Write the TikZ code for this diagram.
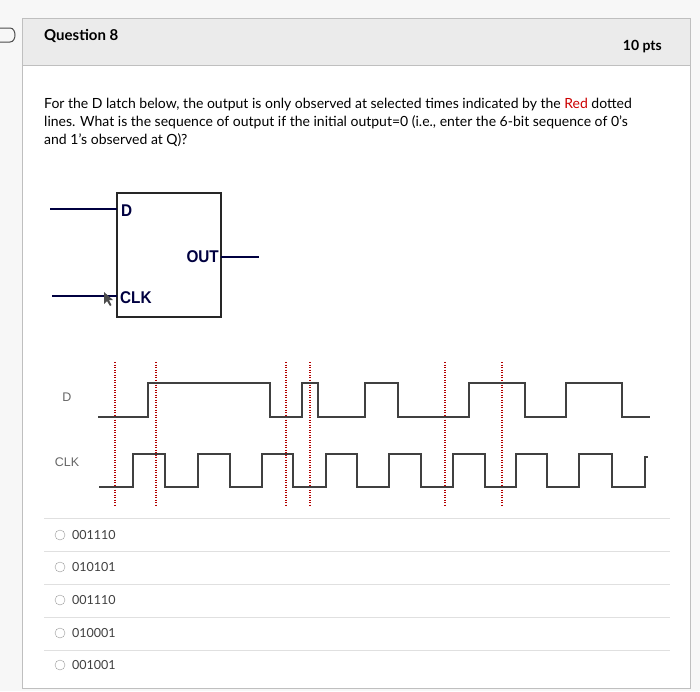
\documentclass[tikz,border=0pt]{standalone}
\usepackage{fontspec}
\setmainfont{Lato}
\setsansfont{Liberation Sans}
\begin{document}
\begin{tikzpicture}[x=1pt,y=-1pt,
  wave/.style={draw=black!75,line width=1.6pt},
  reddot/.style={draw=red!70!black,line width=1.2pt,dash pattern=on 1pt off 1.5pt},
  navy/.style={draw=blue!25!black,line width=2.5pt},
  lbl/.style={font=\sffamily\bfseries\fontsize{17}{17}\selectfont,text=blue!25!black,inner sep=0pt,xscale=0.9},
  opt/.style={font=\fontsize{12.5}{13}\selectfont,text=black!75,anchor=west,inner sep=0pt},
  radio/.style={circle,draw=black!40,minimum size=10pt,inner sep=0pt}]
\useasboundingbox (0,0) rectangle (700,691);
\fill[black!3] (0,0) rectangle (700,691);
\fill[white] (22,18) rectangle (690,688);
\fill[black!8] (22,18) rectangle (690,65);
\draw[black!25] (22,18) rectangle (690,688);
\draw[black!25] (22,65) -- (690,65);
\draw[black!70,line width=1pt] (0,28) -- (10,28) to[out=0,in=90] (15,35) to[out=270,in=0] (10,42) -- (0,42);
\node[anchor=west,inner sep=0pt,font=\bfseries\fontsize{15}{15}\selectfont] (q) at (44,36) {Question 8};
\node[anchor=east,inner sep=0pt,font=\bfseries\fontsize{14}{14}\selectfont] (pts) at (662,47) {10 pts};
\node[anchor=north west,inner sep=0pt,align=left,font=\fontsize{14}{18}\selectfont] (txt) at (44,98)
 {For the D latch below, the output is only observed at selected times indicated by the \textcolor{red!80!black}{Red} dotted\\
  lines. What is the sequence of output if the initial output=0 (i.e., enter the 6-bit sequence of 0's\\
  and 1's observed at Q)?};
% latch
\draw[black!85,line width=2.5pt] (117,193) rectangle (221,317);
\coordinate (din) at (50,209); \coordinate (dend) at (117,209);
\coordinate (cin) at (52,296); \coordinate (cend) at (117,296);
\coordinate (oin) at (221,257); \coordinate (oend) at (259,257);
\draw[navy] (din) -- (dend);
\draw[navy] (cin) -- (cend);
\draw[navy] (oin) -- (oend);
\node[lbl,anchor=west] (dl) at (121,211) {D};
\node[lbl,anchor=east] (ol) at (219,257) {OUT};
\node[lbl,anchor=west] (cl) at (120,298) {CLK};
\fill[black!70] (104,292) -- (104,304) -- (107,301) -- (110,306) -- (111.5,305) -- (109,300) -- (113,300) -- cycle;
% labels
\node[font=\sffamily\fontsize{12.5}{12}\selectfont,text=black!60] (dlab) at (67,397) {D};
\node[font=\sffamily\fontsize{12.5}{12}\selectfont,text=black!60] (clab) at (67,462) {CLK};
% red dotted
\foreach \x in {115,156,286,310,445,502} \draw[reddot] (\x,362) -- (\x,505);
% waves
\draw[wave] (98,417) -- (148,417) -- (148,383) -- (270,383) -- (270,417) -- (302,417) -- (302,383) -- (318,383) -- (318,417)
  -- (365,417) -- (365,383) -- (398,383) -- (398,417) -- (469,417) -- (469,383) -- (525,383) -- (525,417)
  -- (566,417) -- (566,383) -- (622,383) -- (622,417) -- (650,417);
\draw[wave] (99,487) -- (133,487) -- (133,454) -- (165,454) -- (165,487) -- (198,487) -- (198,454) -- (230,454) -- (230,487)
  -- (262,487) -- (262,454) -- (293,454) -- (293,487) -- (326,487) -- (326,454) -- (357,454) -- (357,487)
  -- (389,487) -- (389,454) -- (421,454) -- (421,487) -- (453,487) -- (453,454) -- (485,454) -- (485,487)
  -- (516,487) -- (516,454) -- (547,454) -- (547,487) -- (579,487) -- (579,454) -- (612,454) -- (612,487)
  -- (645,487) -- (645,457) -- (648,457);
% options
\foreach \y in {518,551,584,617,650} \draw[black!12] (44,\y) -- (670,\y);
\foreach \y/\t [count=\i] in {535/001110,567/010101,600/001110,633/010001,665/001001}{
  \node[radio] (r\i) at (60,\y) {};
  \node[opt] (o\i) at (72,\y) {\t};
}
\end{tikzpicture}
\end{document}
